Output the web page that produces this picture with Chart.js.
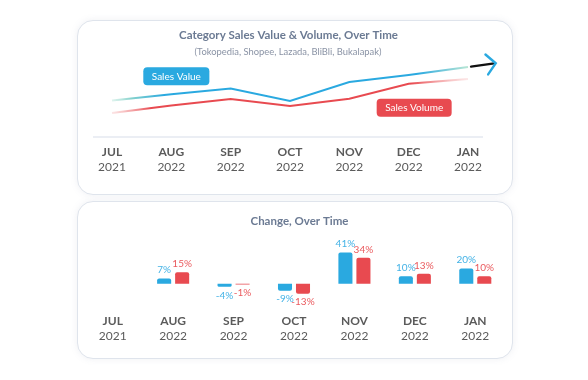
<!DOCTYPE html>
<html><head><meta charset="utf-8">
<script src="https://cdn.jsdelivr.net/npm/chart.js@4"></script>
<style>
html,body{margin:0;padding:0;background:#fff;width:588px;height:380px;overflow:hidden;font-family:Lato,sans-serif}
.card{position:absolute;background:#fff;border:1px solid #dfe4ec;border-radius:16px;box-shadow:0 0 7px rgba(120,135,165,0.12);box-sizing:border-box}
#card1{left:77px;top:20px;width:436px;height:175px}
#card2{left:77px;top:201px;width:436px;height:158px}
canvas{position:absolute}
</style></head><body>
<div class="card" id="card1"></div>
<div class="card" id="card2"></div>
<canvas id="topChart" width="434" height="174" style="left:78px;top:20px;width:434px;height:174px"></canvas>
<canvas id="botChart" width="434" height="156" style="left:78px;top:202px;width:434px;height:156px"></canvas>
<script>
// ---- data ----
const months = ['JUL','AUG','SEP','OCT','NOV','DEC','JAN'];
const years = ['2021','2022','2022','2022','2022','2022','2022'];
const salesValue = [36.5, 42.7, 48.5, 36, 55, 62, 70];      // relative index (top chart)
const salesVolume = [24, 31.5, 38, 31, 38.3, 53.3, 58];     // relative index (top chart)
const changeValue = [null, 7, -4, -9, 41, 10, 20];          // % change, Sales Value
const changeVolume = [null, 15, -1, -13, 34, 13, 10];       // % change, Sales Volume
const topTitle = 'Category Sales Value & Volume, Over Time';
const topSubtitle = '(Tokopedia, Shopee, Lazada, BliBli, Bukalapak)';
const botTitle = 'Change, Over Time';
const valueLabel = 'Sales Value';
const volumeLabel = 'Sales Volume';

const BLUE = '#2aa9e0', RED = '#e84a50';
const monthFont = {family:'Lato', size:12, weight:'bold'};
const yearFont = {family:'Lato', size:12, weight:'normal'};
const LABEL_COLOR = '#5b5b5b';

function blueGrad(ctx){
  const ch = ctx.chart, a = ch.chartArea;
  if(!a) return BLUE;
  const g = ch.ctx.createLinearGradient(a.left-6, 0, a.right, 0);
  g.addColorStop(0, 'rgba(170,225,205,0.15)');
  g.addColorStop(0.07, 'rgba(120,205,200,0.9)');
  g.addColorStop(0.16, BLUE);
  g.addColorStop(0.86, BLUE);
  g.addColorStop(1, 'rgba(185,230,212,1)');
  return g;
}
function redGrad(ctx){
  const ch = ctx.chart, a = ch.chartArea;
  if(!a) return RED;
  const g = ch.ctx.createLinearGradient(a.left-6, 0, a.right+10, 0);
  g.addColorStop(0, 'rgba(245,170,170,0.15)');
  g.addColorStop(0.12, RED);
  g.addColorStop(0.82, RED);
  g.addColorStop(1, 'rgba(245,170,170,0.1)');
  return g;
}

function roundRect(ctx,x,y,w,h,r){
  ctx.beginPath();
  ctx.moveTo(x+r,y);ctx.lineTo(x+w-r,y);ctx.quadraticCurveTo(x+w,y,x+w,y+r);
  ctx.lineTo(x+w,y+h-r);ctx.quadraticCurveTo(x+w,y+h,x+w-r,y+h);
  ctx.lineTo(x+r,y+h);ctx.quadraticCurveTo(x,y+h,x,y+h-r);
  ctx.lineTo(x,y+r);ctx.quadraticCurveTo(x,y,x+r,y);ctx.closePath();
}
function tag(ctx, text, cx, cy, color){
  ctx.font = '10px Lato';
  const w = ctx.measureText(text).width + 17, h = 18;
  ctx.fillStyle = color;
  roundRect(ctx, cx-w/2, cy-h/2, w, h, 4); ctx.fill();
  ctx.fillStyle = '#fff'; ctx.textAlign='center'; ctx.textBaseline='middle';
  ctx.fillText(text, cx, cy+0.5);
}

const topDecor = {
  id:'topDecor',
  beforeDatasetsDraw(chart){
    const {ctx, chartArea:a} = chart;
    ctx.save();
    ctx.strokeStyle = '#e4e9f0'; ctx.lineWidth = 1.5;
    ctx.beginPath(); ctx.moveTo(a.left-19, a.bottom); ctx.lineTo(a.right+15, a.bottom); ctx.stroke();
    ctx.restore();
  },
  afterDatasetsDraw(chart){
    const {ctx} = chart;
    ctx.save();
    ctx.textAlign='center'; ctx.textBaseline='middle';
    ctx.fillStyle='#6b7a93'; ctx.font='bold 11.5px Lato';
    ctx.fillText(topTitle, 210.5, 15.5);
    ctx.fillStyle='#8a93a5'; ctx.font='9.4px Lato';
    ctx.fillText(topSubtitle, 210, 32);
    // arrow continuing the value line
    const pts = chart.getDatasetMeta(0).data;
    const p1 = pts[pts.length-2], p2 = pts[pts.length-1];
    let dx = p2.x-p1.x, dy = p2.y-p1.y; const L = Math.hypot(dx,dy); dx/=L; dy/=L;
    const tx = p2.x + dx*28, ty = p2.y + dy*28;
    ctx.strokeStyle = '#111'; ctx.lineWidth = 2.2; ctx.lineCap='round';
    ctx.beginPath(); ctx.moveTo(p2.x+dx*3, p2.y+dy*3); ctx.lineTo(tx-dx*1.5, ty-dy*1.5); ctx.stroke();
    const back = Math.atan2(-dy,-dx), arm = 13.5, ang = 48*Math.PI/180;
    ctx.strokeStyle = BLUE; ctx.lineWidth = 2.4; ctx.lineJoin='miter';
    ctx.beginPath();
    ctx.moveTo(tx+Math.cos(back+ang)*arm, ty+Math.sin(back+ang)*arm);
    ctx.lineTo(tx, ty);
    ctx.lineTo(tx+Math.cos(back-ang)*arm, ty+Math.sin(back-ang)*arm);
    ctx.stroke();
    // series tags
    const pv = chart.getDatasetMeta(0).data[1];
    tag(ctx, valueLabel, pv.x+5, pv.y-18, BLUE);
    const pw = chart.getDatasetMeta(1).data[5];
    tag(ctx, volumeLabel, pw.x+5.5, pw.y+24, RED);
    ctx.restore();
  }
};

new Chart(document.getElementById('topChart'), {
  type:'line',
  data:{ labels: months, datasets:[
    {label:valueLabel, data:salesValue, borderColor:blueGrad, borderWidth:2, pointRadius:0, tension:0, fill:false},
    {label:volumeLabel, data:salesVolume, borderColor:redGrad, borderWidth:2, pointRadius:0, tension:0, fill:false}
  ]},
  options:{
    responsive:false, animation:false, devicePixelRatio:1,
    layout:{padding:{left:34, right:44, top:40, bottom:13}},
    plugins:{legend:{display:false}, tooltip:{enabled:false}},
    scales:{
      y:{display:false, min:0, max:77},
      x:{type:'category', labels:months, offset:false, weight:0,
         grid:{display:false, drawTicks:false}, border:{display:false},
         ticks:{font:monthFont, color:LABEL_COLOR, padding:8, maxRotation:0, autoSkip:false},
         afterFit:s=>{s.height=22;}},
      x2:{type:'category', labels:years, position:'bottom', offset:false, weight:1,
         grid:{display:false, drawTicks:false}, border:{display:false},
         ticks:{font:yearFont, color:LABEL_COLOR, padding:1, maxRotation:0, autoSkip:false},
         afterFit:s=>{s.height=22;}}
    }
  },
  plugins:[topDecor]
});

const botDecor = {
  id:'botDecor',
  afterDatasetsDraw(chart){
    const {ctx} = chart;
    ctx.save();
    ctx.textAlign='center'; ctx.textBaseline='middle';
    ctx.fillStyle='#6b7a93'; ctx.font='bold 11.5px Lato';
    ctx.fillText(botTitle, 221.5, 19);
    ctx.font='10px Lato';
    const colors = ['#45b3e6', '#ea5a5e'];
    chart.data.datasets.forEach((ds, di)=>{
      const meta = chart.getDatasetMeta(di);
      meta.data.forEach((el, i)=>{
        const v = ds.data[i];
        if(v===null || v===undefined) return;
        ctx.fillStyle = colors[di];
        const y = v >= 0 ? el.y - 8.5 : el.y + 8.5;
        ctx.fillText(v + '%', el.x, y);
      });
    });
    ctx.restore();
  }
};

new Chart(document.getElementById('botChart'), {
  type:'bar',
  data:{ labels: months, datasets:[
    {label:valueLabel, data:changeValue, backgroundColor:BLUE, borderRadius:2, categoryPercentage:0.596, barPercentage:0.78},
    {label:volumeLabel, data:changeVolume, backgroundColor:RED, borderRadius:2, categoryPercentage:0.596, barPercentage:0.78}
  ]},
  options:{
    responsive:false, animation:false, devicePixelRatio:1,
    layout:{padding:{left:4.5, right:6.5, top:36, bottom:8}},
    plugins:{legend:{display:false}, tooltip:{enabled:false}},
    scales:{
      y:{display:false, min:-26.5, max:60},
      x:{type:'category', labels:months, offset:true, weight:0,
         grid:{display:false, drawTicks:false}, border:{display:false},
         ticks:{font:monthFont, color:LABEL_COLOR, padding:9.5, maxRotation:0, autoSkip:false},
         afterFit:s=>{s.height=24;}},
      x2:{type:'category', labels:years, position:'bottom', offset:true, weight:1,
         grid:{display:false, drawTicks:false}, border:{display:false},
         ticks:{font:yearFont, color:LABEL_COLOR, padding:1, maxRotation:0, autoSkip:false},
         afterFit:s=>{s.height=22;}}
    }
  },
  plugins:[botDecor]
});
</script>
</body></html>
